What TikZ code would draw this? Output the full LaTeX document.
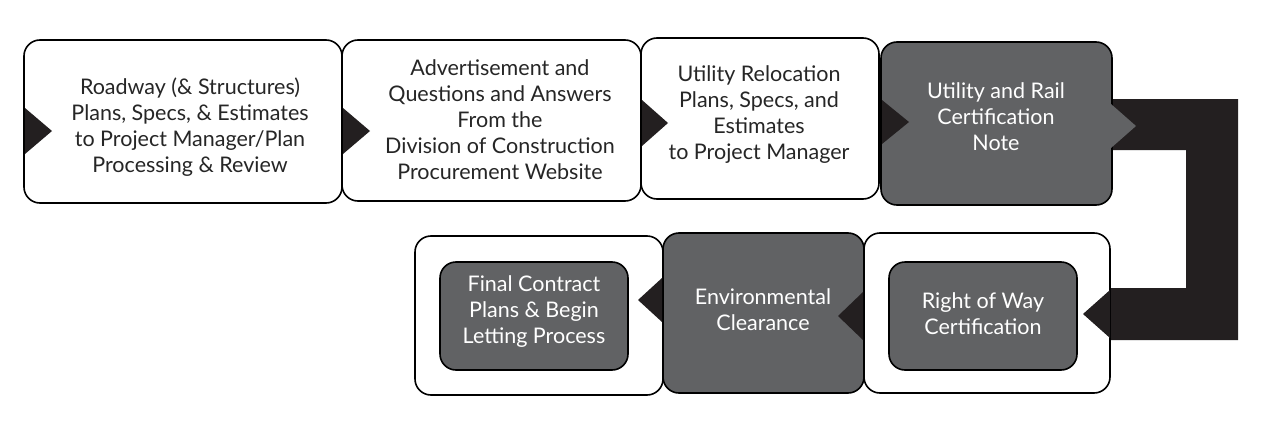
\documentclass[tikz,border=0pt]{standalone}
\usepackage{fontspec}
\setmainfont{Lato}
\begin{document}
\begin{tikzpicture}[x=1pt,y=-1pt,
  box/.style={draw=black,line width=1.6pt,rounded corners=16pt,fill=white},
  dbox/.style={box,fill=dgray},
  txt/.style={align=center,font=\fontsize{21.5}{26}\selectfont,text=black!85},
  wtxt/.style={txt,text=white},
  tri/.style={fill=tri}]
\definecolor{dgray}{HTML}{616264}
\definecolor{tri}{HTML}{231F20}
\useasboundingbox (0,0) rectangle (1280,423);
% big connector band
\fill[tri] (1100,99) -- (1238,99) -- (1238,340) -- (1110,340) -- (1083,314) -- (1110,288) -- (1186,288) -- (1186,150) -- (1100,150) -- cycle;
% top row
\draw[box] (24,40) rectangle (342,203);
\draw[box] (342,40) rectangle (641,201);
\draw[box] (641,38) rectangle (879,199);
\draw[dbox] (881,42) rectangle (1112,205);
\fill[dgray] (1111,104) -- (1136,126) -- (1111,148) -- cycle;
\fill[tri] (25,108) -- (52,131) -- (25,154) -- cycle;
\fill[tri] (343,108) -- (370,131) -- (343,154) -- cycle;
\fill[tri] (642,100) -- (668,123) -- (642,146) -- cycle;
\fill[tri] (882,100) -- (909,122) -- (882,144) -- cycle;
\node[txt] (n1) at (190,127) {Roadway (\& Structures)\\Plans, Specs, \& Estimates\\to Project Manager/Plan\\Processing \& Review};
\node[txt] (n2) at (500,120) {Advertisement and\\Questions and Answers\\From the\\Division of Construction\\Procurement Website};
\node[txt] (n3) at (759,115) {Utility Relocation\\Plans, Specs, and\\Estimates\\to Project Manager};
\node[wtxt] (n4) at (996,117) {Utility and Rail\\Certification\\Note};
% bottom row
\draw[box] (864,233) rectangle (1110,393);
\fill[tri] (1110,290) -- (1083,314) -- (1110,338) -- cycle;
\draw[dbox] (889,262) rectangle (1077,370);
\draw[dbox] (663,233) rectangle (864,393);
\fill[tri] (863,292) -- (838,316) -- (863,340) -- cycle;
\draw[box] (415,236) rectangle (663,395);
\fill[tri] (662,278) -- (638,300) -- (662,322) -- cycle;
\draw[dbox] (440,262) rectangle (628,370);
\node[wtxt] (n5) at (983,314) {Right of Way\\Certification};
\node[wtxt] (n6) at (763,310) {Environmental\\Clearance};
\node[wtxt] (n7) at (534,312) {Final Contract\\Plans \& Begin\\Letting Process};
\end{tikzpicture}
\end{document}
